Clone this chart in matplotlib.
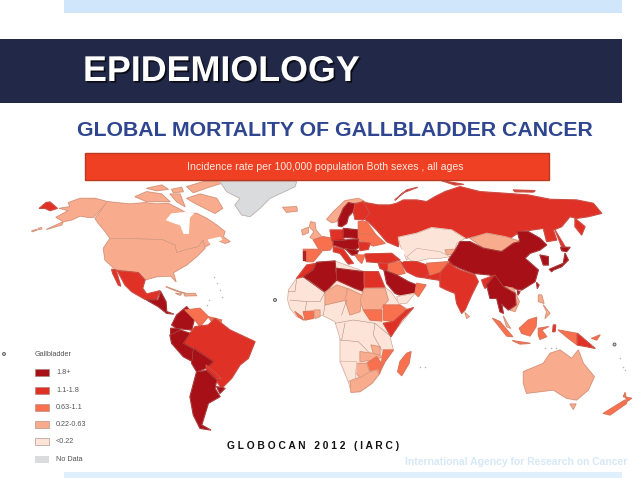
import matplotlib
matplotlib.use('Agg')
import matplotlib.pyplot as plt
import matplotlib.patheffects as pe
from matplotlib.patches import Polygon, Rectangle, Circle

plt.rcParams['font.family'] = ['Liberation Sans', 'DejaVu Sans']

C5 = '#a81017'
C4 = '#e03127'
C3 = '#f8704e'
C2 = '#f9ab8d'
C1 = '#fde4d8'
ND = '#d9dbdc'
WHITE = '#ffffff'
BORDER = '#a58478'

legend_labels = ['1.8+', '1.1-1.8', '0.63-1.1', '0.22-0.63', '<0.22', 'No Data']
legend_colors = [C5, C4, C3, C2, C1, ND]

north_origin = (30, 180)
north = [
    (C4, [(28,85),(48,68),(60,66),(82,85),(60,92),(45,85)]),
    (C2, [(115,68),(150,55),(195,55),(232,65),(190,112),(175,112),(150,108),(125,120),(100,125),(78,112),(100,100),(115,92),(88,85),(120,80)]),
    (C2, [(100,125),(50,148),(95,135)]),
    (C2, [(232,65),(300,72),(345,68),(380,72),(415,70),(450,88),(470,100),(500,100),(530,115),(560,135),(585,155),(580,170),(600,185),(585,190),(560,180),(535,195),(510,210),(490,205),(465,210),(440,218),(435,195),(395,178),(240,175),(222,150),(205,130),(195,115)]),
    (WHITE, [(410,120),(425,102),(462,98),(490,100),(478,112),(475,160),(462,160),(452,135)]),
    (WHITE, [(535,180),(570,172),(575,178),(545,195)]),
    (C2, [(470,55),(510,42),(560,55),(578,85),(555,100),(525,85),(495,70)]),
    (C2, [(315,50),(350,35),(395,42),(420,65),(350,65)]),
    (C2, [(350,25),(395,15),(415,28),(380,32)]),
    (C2, [(425,28),(455,22),(460,35),(430,38)]),
    (C2, [(470,20),(520,5),(590,5),(535,22),(490,38)]),
    (C2, [(420,42),(450,42),(465,80),(440,65)]),
    (C2, [(240,175),(395,178),(435,195),(440,218),(470,208),(505,200),(520,180),(525,205),(500,230),(470,255),(430,278),(438,305),(422,288),(380,290),(345,300),(325,278),(255,268),(225,240),(220,205)]),
    (C4, [(262,272),(325,278),(345,300),(338,325),(350,342),(390,332),(380,358),(345,358),(305,335),(285,315)]),
    (C4, [(245,268),(258,270),(272,318),(265,315),(248,280)]),
    (C5, [(385,360),(392,335),(408,365),(410,395),(430,402),(410,400),(385,380),(350,360)]),
    (C2, [(408,320),(455,337),(485,345),(435,332)]),
    (C2, [(462,342),(495,340),(500,347),(465,348)]),
    (C2, [(437,340),(455,341),(450,346)]),
    (C2, [(5,153),(20,148),(22,150),(7,155)]),
    (C2, [(25,145),(35,143),(35,147),(25,148)]),
    (ND, [(570,5),(800,5),(795,20),(720,55),(690,85),(660,110),(635,105),(615,75),(630,55),(590,35)]),
]

south_origin = (0, 300)
south = [
    (C5, [(560,20),(585,50),(575,90),(530,85),(515,75),(530,45)]),
    (C3, [(555,30),(600,25),(625,50),(600,80),(585,60)]),
    (C3, [(625,50),(665,60),(660,78),(640,72)]),
    (C4, [(585,80),(625,75),(645,55),(690,90),(765,125),(745,175),(720,195),(695,235),(665,265),(640,230),(615,195),(640,185),(580,145),(550,130),(570,100)]),
    (C5, [(510,105),(540,90),(570,100),(550,130),(585,150),(578,185),(550,170),(515,130)]),
    (C5, [(512,85),(535,85),(540,90),(512,105)]),
    (C5, [(580,145),(640,185),(618,205),(590,215),(575,190)]),
    (C4, [(618,195),(665,235),(645,235),(620,215)]),
    (C5, [(650,260),(675,265),(660,280)]),
    (C5, [(590,215),(620,212),(650,240),(645,265),(660,290),(625,310),(605,375),(632,390),(600,385),(580,345),(570,290)]),
]

russia_origin = (260, 150)
russia = [
    (C4, [(300,155),(355,165),(390,165),(410,160),(430,150),(470,150),(500,155),(525,140),(555,125),(600,110),(660,125),(735,130),(805,135),(870,148),(950,150),(1000,160),(1025,190),(985,200),(950,205),(930,200),(905,230),(880,240),(890,270),(860,275),(850,235),(780,245),(750,265),(690,250),(615,265),(575,240),(515,235),(470,250),(420,260),(415,290),(380,275),(350,240),(325,215),(310,205),(315,180)]),
    (C4, [(945,205),(975,230),(965,255),(945,230)]),
    (C4, [(405,150),(440,120),(472,112),(430,128)]),
    (C4, [(760,120),(825,122),(820,126),(765,125)]),
    (C4, [(545,92),(610,103),(585,105)]),
    (C4, [(885,240),(915,290),(905,290)]),
    (C1, [(415,262),(470,250),(515,233),(575,240),(615,265),(590,280),(580,315),(540,310),(490,320),(470,300),(440,330),(420,285)]),
    (C1, [(440,320),(470,295),(540,305),(570,320),(540,325),(510,325),(470,335),(450,330)]),
    (C2, [(555,300),(590,297),(575,315),(560,312)]),
    (C4, [(355,340),(385,340),(385,360),(372,360),(360,355)]),
    (C4, [(420,335),(470,335),(500,345),(510,375),(505,385),(470,380),(440,365)]),
    (C3, [(385,340),(420,335),(435,370),(410,375),(385,360)]),
    (C5, [(372,360),(410,375),(445,395),(470,405),(465,430),(430,440),(405,430),(380,400)]),
    (C1, [(410,440),(465,430),(440,460),(415,462)]),
    (C3, [(470,400),(498,405),(475,440),(465,430)]),
    (C4, [(500,375),(540,365),(570,335),(590,340),(565,365),(545,395),(535,390),(500,385)]),
    (C3, [(500,340),(565,335),(540,365),(510,375)]),
    (WHITE, [(418,295),(432,305),(428,335),(416,325)]),
]

europe_origin = (290, 180)
europe = [
    (C2, [(35,150),(55,142),(55,158),(38,165)]),
    (C2, [(62,125),(75,128),(78,150),(95,170),(70,178),(60,172),(72,155),(58,140)]),
    (C2, [(110,118),(130,95),(165,62),(205,55),(225,65),(195,68),(170,78),(150,105),(140,125),(125,128)]),
    (C5, [(145,138),(145,120),(160,85),(175,68),(195,72),(192,92),(175,110),(170,130),(155,140)]),
    (C4, [(195,72),(220,65),(240,100),(220,120),(195,118),(190,95)]),
    (C3, [(70,180),(100,170),(125,175),(130,195),(120,210),(95,212),(85,205)]),
    (C3, [(40,208),(85,208),(95,215),(70,245),(50,245),(42,240)]),
    (C5, [(38,212),(46,212),(46,240),(38,240)]),
    (C4, [(120,150),(160,150),(162,182),(125,182)]),
    (C5, [(160,145),(205,150),(205,175),(160,172)]),
    (C3, [(205,125),(230,125),(258,165),(205,160)]),
    (C3, [(205,160),(258,165),(285,190),(250,198),(205,178)]),
    (C5, [(130,182),(205,178),(210,200),(190,212),(160,205),(130,195)]),
    (C4, [(205,185),(240,190),(235,208),(210,212)]),
    (C4, [(130,200),(160,208),(190,250),(175,252),(150,220),(130,215)]),
    (C5, [(165,205),(205,212),(200,225),(185,225)]),
    (C3, [(195,225),(225,225),(215,250),(205,240)]),
    (C4, [(225,222),(305,220),(330,240),(290,250),(230,245)]),
]

africa_origin = (285, 255)
africa = [
    (C1, [(35,70),(10,105),(8,135),(15,160),(35,185),(60,195),(110,180),(150,200),(165,250),(165,320),(190,380),(198,410),(225,410),(262,385),(285,355),(295,320),(325,285),(315,245),(385,160),(365,160),(345,150),(318,110),(300,98),(238,50),(150,18),(95,22)]),
    (C4, [(35,70),(65,30),(95,25),(85,45),(55,65)]),
    (C5, [(95,22),(150,18),(155,75),(120,112),(55,65),(85,45)]),
    (C5, [(155,40),(235,50),(238,110),(210,100),(155,75)]),
    (C4, [(238,50),(280,50),(300,98),(238,100)]),
    (C2, [(120,112),(155,90),(185,100),(185,135),(120,150)]),
    (C2, [(188,100),(230,120),(225,170),(195,180),(180,135)]),
    (C2, [(238,100),(300,100),(310,135),(285,165),(235,165),(225,135)]),
    (C3, [(235,165),(290,165),(290,198),(255,195)]),
    (C3, [(295,150),(345,150),(365,165),(325,200),(295,195)]),
    (C4, [(385,158),(350,195),(318,245),(295,205),(325,200),(365,165)]),
    (C3, [(55,170),(85,168),(85,190),(60,195)]),
    (C3, [(30,170),(50,185),(55,195),(40,185)]),
    (C2, [(88,165),(105,165),(105,185),(90,190)]),
    (C2, [(225,290),(265,295),(295,305),(265,315),(225,320)]),
    (C2, [(258,270),(285,275),(285,300),(265,295)]),
    (C3, [(295,285),(325,285),(300,320),(290,340),(280,360),(272,340),(290,320)]),
    (C3, [(245,325),(275,305),(292,330),(270,350),(250,345)]),
    (C2, [(215,325),(245,325),(255,355),(225,368),(210,350)]),
    (C1, [(165,318),(215,320),(210,378),(190,380)]),
    (C2, [(195,378),(215,370),(225,368),(255,350),(278,345),(280,360),(260,385),(225,410),(198,412)]),
    (C3, [(365,295),(378,290),(372,325),(350,362),(338,350),(345,320)]),
]
# interior country lines over the pale part of Africa
africa_lines = [
    [(35,72),(30,110),(10,110)],
    [(70,75),(120,112),(105,140),(65,140),(15,135)],
    [(65,140),(60,170)],
    [(120,150),(115,180)],
    [(150,205),(205,195),(270,205),(265,240),(290,285)],
    [(165,255),(220,260),(250,290)],
    [(170,255),(180,205)],
    [(270,205),(318,245)],
    [(185,135),(170,180)],
]

asia_origin = (440, 230)
asia = [
    (C2, [(90,25),(140,10),(195,20),(245,35),(215,55),(175,65),(125,50)]),
    (C5, [(25,90),(45,62),(60,35),(90,35),(130,55),(185,65),(220,40),(240,35),(232,5),(265,5),(300,25),(320,45),(300,60),(270,70),(255,85),(295,120),(285,155),(245,180),(190,170),(150,135),(100,130),(60,115),(40,105)]),
    (C5, [(300,75),(325,80),(325,105),(310,105)]),
    (C5, [(328,118),(370,100),(375,70),(385,90),(365,110),(340,120),(335,125)]),
    (C5, [(362,52),(390,52),(380,65),(365,62)]),
    (C5, [(290,158),(297,165),(292,175)]),
    (C5, [(232,182),(240,185),(234,195)]),
    (C4, [(0,130),(25,100),(40,110),(60,120),(105,135),(115,155),(95,195),(75,240),(65,250),(50,220),(45,190),(20,180),(0,170)]),
    (C4, [(125,150),(165,135),(150,165),(135,175),(130,165)]),
    (C2, [(195,170),(220,175),(238,215),(225,245),(210,240),(228,225),(225,195)]),
    (C5, [(140,165),(165,135),(190,170),(225,190),(228,225),(205,240),(185,222),(190,250),(180,245),(170,205),(150,205)]),
    (C2, [(75,248),(88,260),(80,265)]),
    (C2, [(190,258),(205,285),(212,295),(200,290)]),
    (C2, [(295,195),(305,195),(312,220),(295,215)]),
    (C2, [(310,225),(330,250),(315,265),(320,245)]),
    (C3, [(158,265),(180,275),(218,320),(200,318)]),
    (C3, [(238,295),(265,270),(290,262),(288,290),(270,318),(245,310)]),
    (C3, [(295,295),(325,290),(305,300),(320,320),(300,328),(295,315)]),
    (C3, [(218,332),(270,340),(240,342)]),
    (C4, [(340,285),(347,285),(345,305),(338,305)]),
    (C3, [(355,300),(410,310),(412,345),(385,325)]),
    (C4, [(412,310),(465,355),(440,350),(412,345)]),
    (C3, [(455,325),(480,315),(470,330)]),
]

oceania_origin = (260, 300)
oceania = [
    (C2, [(790,215),(850,190),(870,160),(900,150),(935,175),(955,150),(970,190),(1003,230),(985,270),(950,300),(920,295),(880,270),(800,280),(790,250)]),
    (C2, [(930,312),(948,312),(940,328)]),
    (C3, [(1030,340),(1095,300),(1100,310),(1050,345)]),
    (C3, [(1090,290),(1115,295),(1100,305),(1095,278)]),
]

iceland_origin = (0, 150)
iceland = [(C2, [(848,172),(890,170),(892,183),(860,187)])]

islets_x = [214, 217, 220, 222, 209, 207, 420, 425, 620, 623, 625, 592, 545, 551, 556]
islets_y = [277, 283, 290, 297, 300, 305, 367, 367, 358, 367, 370, 345, 348, 348, 348]

fig = plt.figure(figsize=(6.38, 4.78), dpi=100)
ax = fig.add_axes([0, 0, 1, 1])
ax.set_xlim(0, 638)
ax.set_ylim(478, 0)
ax.axis('off')


def draw_shapes(shapes, origin):
    for color, pts in shapes:
        xy = [(origin[0] + x / 3, origin[1] + y / 3) for x, y in pts]
        # own-colour stroke rounds the corners and closes the gaps between neighbours
        ax.add_patch(Polygon(xy, closed=True, facecolor=color, edgecolor=color, linewidth=0.9, joinstyle='round', zorder=2))
        if color != WHITE:
            ax.add_patch(Polygon(xy, closed=True, facecolor='none', edgecolor=BORDER, linewidth=0.25, joinstyle='round', zorder=2))


# slide furniture
ax.add_patch(Rectangle((64, 0), 558, 12.5, color='#d0e6fa', lw=0))
ax.add_patch(Rectangle((64, 472), 558, 6, color='#dfeffc', lw=0))
ax.add_patch(Rectangle((0, 39), 622, 64, color='#222848', lw=0))
ax.text(83, 71.5, 'EPIDEMIOLOGY', color='white', fontsize=25.8, fontweight='bold', va='center', ha='left',
        path_effects=[pe.withSimplePatchShadow(offset=(1.2, -1.2), shadow_rgbFace='black', alpha=0.7)])
ax.text(77, 130, 'GLOBAL MORTALITY OF GALLBLADDER CANCER', color='#2f4590', fontsize=15.35, fontweight='bold',
        va='center', ha='left')

draw_shapes(north, north_origin)
draw_shapes(south, south_origin)
draw_shapes(russia, russia_origin)
draw_shapes(europe, europe_origin)
draw_shapes(africa, africa_origin)
draw_shapes(asia, asia_origin)
draw_shapes(oceania, oceania_origin)
draw_shapes(iceland, iceland_origin)
for line in africa_lines:
    ax.plot([africa_origin[0] + p[0] / 3 for p in line], [africa_origin[1] + p[1] / 3 for p in line],
            color=BORDER, lw=0.35, zorder=3)
ax.scatter(islets_x, islets_y, s=1.2, color='#b5b5b5', lw=0, zorder=2)

# red caption box goes over the top of the map
ax.add_patch(Rectangle((84.5, 153), 464, 27, facecolor='#f04023', edgecolor='#b83a20', lw=1, zorder=4))
ax.text(325, 167, 'Incidence rate per 100,000 population Both sexes , all ages', color='#fbe9e0', fontsize=7.6,
        ha='center', va='center', zorder=5)

# legend
ax.text(35, 355, 'Gallbladder', color='#555555', fontsize=5.2, va='center')
for i, (lab, col) in enumerate(zip(legend_labels, legend_colors)):
    y = 372.7 + i * 17.3
    edge = 'none' if col == ND else BORDER
    ax.add_patch(Rectangle((35, y - 3.5), 14, 7, facecolor=col, edgecolor=edge, lw=0.4))
    ax.text(56, y, lab, color='#555555', fontsize=5.2, va='center')

for cx, cy in [(275, 300), (4, 354), (614.5, 344.5)]:
    ax.add_patch(Circle((cx, cy), 1.5, facecolor='#c8c8c8', edgecolor='#555555', lw=0.6))

ax.text(227, 446, 'G L O B O C A N   2 0 1 2   ( I A R C )', color='#111111', fontsize=7.35, fontweight='bold',
        va='center', ha='left')
ax.text(405, 462, 'International Agency for Research on Cancer', color='#d6e8f6', fontsize=7.45, fontweight='bold',
        va='center', ha='left')

fig.savefig('out.png', dpi=100)
